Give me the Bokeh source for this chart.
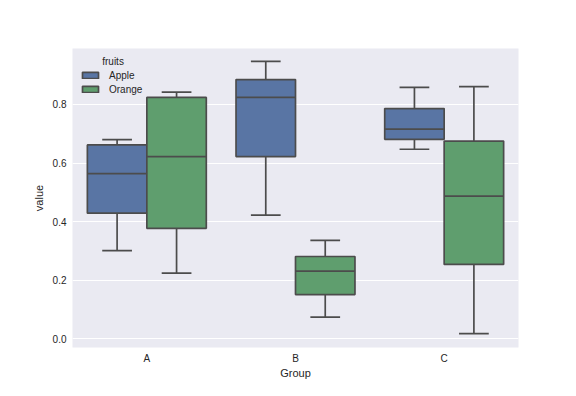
from bokeh.plotting import figure
from bokeh.models import (ColumnDataSource, FactorRange, Range1d, FixedTicker,
                          Legend, LegendItem, Label, PrintfTickFormatter)
from bokeh.transform import dodge
from bokeh.embed import file_html
from bokeh.resources import INLINE

groups = ["A", "B", "C"]
fruits = ["Apple", "Orange"]

apple_low = [0.301, 0.422, 0.647]
apple_q1 = [0.429, 0.622, 0.681]
apple_med = [0.564, 0.824, 0.716]
apple_q3 = [0.662, 0.885, 0.786]
apple_high = [0.680, 0.947, 0.858]

orange_low = [0.224, 0.074, 0.018]
orange_q1 = [0.377, 0.151, 0.254]
orange_med = [0.622, 0.231, 0.487]
orange_q3 = [0.824, 0.281, 0.675]
orange_high = [0.842, 0.336, 0.861]

y_ticks = [0.0, 0.2, 0.4, 0.6, 0.8]

fruit_colors = ["#5975a4", "#5f9e6e"]
line_col = "#4c4c4c"
text_col = "#262626"
FONT = "Liberation Sans"

p = figure(x_range=FactorRange(factors=groups, range_padding=0),
           y_range=Range1d(-0.0297, 0.991),
           frame_width=446, frame_height=299,
           min_border_left=72, min_border_right=42,
           min_border_top=48, min_border_bottom=33,
           output_backend="svg", toolbar_location=None)

p.background_fill_color = "#EAEAF2"
p.border_fill_color = "white"
p.outline_line_color = None
p.xgrid.grid_line_color = None
p.ygrid.grid_line_color = "white"
p.ygrid.grid_line_width = 1
p.yaxis.ticker = FixedTicker(ticks=y_ticks)
p.yaxis.formatter = PrintfTickFormatter(format="%.1f")

for ax in (p.xaxis, p.yaxis):
    ax.axis_line_color = None
    ax.major_tick_line_color = None
    ax.minor_tick_line_color = None
    ax.major_tick_out = 0
    ax.major_tick_in = 0
    ax.minor_tick_out = 0
    ax.major_label_text_font = FONT
    ax.major_label_text_font_size = "10px"
    ax.major_label_text_color = text_col
    ax.axis_label_text_font = FONT
    ax.axis_label_text_font_size = "11px"
    ax.axis_label_text_font_style = "normal"
    ax.axis_label_text_color = text_col

p.xaxis.axis_label = "Group"
p.yaxis.axis_label = "value"
p.xaxis.major_label_standoff = 5
p.xaxis.axis_label_standoff = 0
p.yaxis.major_label_standoff = 6
p.yaxis.axis_label_standoff = 5

series = [
    (apple_low, apple_q1, apple_med, apple_q3, apple_high),
    (orange_low, orange_q1, orange_med, orange_q3, orange_high),
]
offsets = [-0.2, 0.2]
box_w = 0.4
cap_w = 0.2

items = []
for name, col, off, (lo, q1, md, q3, hi) in zip(fruits, fruit_colors, offsets, series):
    src = ColumnDataSource(dict(group=groups, low=lo, q1=q1, med=md, q3=q3, high=hi))
    xc = dodge("group", off, range=p.x_range)
    xl = dodge("group", off - box_w / 2, range=p.x_range)
    xr = dodge("group", off + box_w / 2, range=p.x_range)
    cl = dodge("group", off - cap_w / 2, range=p.x_range)
    cr = dodge("group", off + cap_w / 2, range=p.x_range)
    lw = 1.7
    p.segment(x0=xc, x1=xc, y0="q3", y1="high", source=src, line_color=line_col, line_width=lw)
    p.segment(x0=xc, x1=xc, y0="q1", y1="low", source=src, line_color=line_col, line_width=lw)
    p.segment(x0=cl, x1=cr, y0="high", y1="high", source=src, line_color=line_col, line_width=lw)
    p.segment(x0=cl, x1=cr, y0="low", y1="low", source=src, line_color=line_col, line_width=lw)
    r = p.vbar(x=xc, width=box_w, bottom="q1", top="q3", source=src,
               fill_color=col, line_color=line_col, line_width=lw)
    p.segment(x0=xl, x1=xr, y0="med", y1="med", source=src, line_color=line_col, line_width=lw)
    items.append(LegendItem(label=name, renderers=[r]))

legend = Legend(items=items, location=(8, 251), padding=0, margin=0, spacing=0,
                glyph_width=20, glyph_height=8, label_height=14, label_standoff=9,
                label_text_font=FONT, label_text_font_size="10px",
                label_text_color=text_col,
                background_fill_alpha=0, border_line_color=None)
p.add_layout(legend, "center")

p.add_layout(Label(x=0.2, y=0.948, text="fruits", text_font=FONT,
                   text_font_size="10px", text_color=text_col,
                   text_baseline="middle", text_align="left"))

open("out.html", "w").write(file_html(p, INLINE))
